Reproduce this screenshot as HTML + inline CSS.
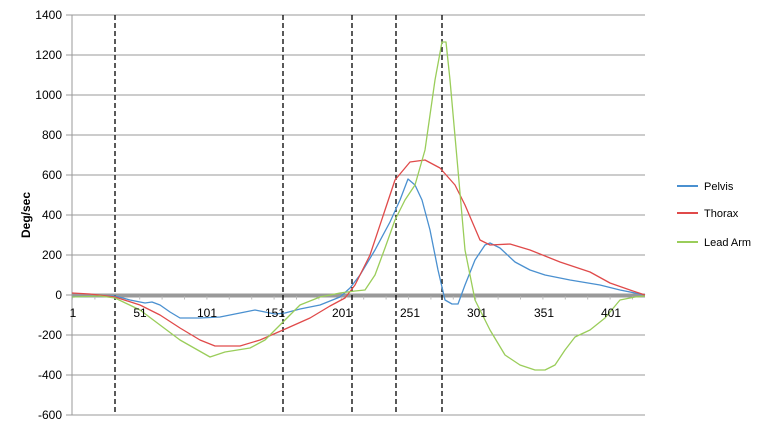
<!DOCTYPE html><html><head><style>body{margin:0;background:#fff}svg text{font-family:"Liberation Sans",sans-serif}</style></head><body>
<svg width="768" height="430" xmlns="http://www.w3.org/2000/svg">
<g stroke="#999" stroke-width="1">
<line x1="72" y1="15" x2="645" y2="15"/><line x1="72" y1="55" x2="645" y2="55"/><line x1="72" y1="95" x2="645" y2="95"/><line x1="72" y1="135" x2="645" y2="135"/><line x1="72" y1="175" x2="645" y2="175"/><line x1="72" y1="215" x2="645" y2="215"/><line x1="72" y1="255" x2="645" y2="255"/><line x1="72" y1="335" x2="645" y2="335"/><line x1="72" y1="375" x2="645" y2="375"/><line x1="72" y1="415" x2="645" y2="415"/>
<line x1="72" y1="15" x2="72" y2="415"/>
<line x1="66" y1="15" x2="72" y2="15"/><line x1="66" y1="55" x2="72" y2="55"/><line x1="66" y1="95" x2="72" y2="95"/><line x1="66" y1="135" x2="72" y2="135"/><line x1="66" y1="175" x2="72" y2="175"/><line x1="66" y1="215" x2="72" y2="215"/><line x1="66" y1="255" x2="72" y2="255"/><line x1="66" y1="295" x2="72" y2="295"/><line x1="66" y1="335" x2="72" y2="335"/><line x1="66" y1="375" x2="72" y2="375"/><line x1="66" y1="415" x2="72" y2="415"/>
</g>
<line x1="72" y1="295.5" x2="645" y2="295.5" stroke="#999" stroke-width="4"/>
<line x1="72" y1="298" x2="645" y2="298" stroke="#bbb" stroke-width="3" stroke-dasharray="1,21.4"/>
<g stroke="#000" stroke-width="1.3" stroke-dasharray="5,3">
<line x1="115" y1="15" x2="115" y2="415"/><line x1="283" y1="15" x2="283" y2="415"/><line x1="352" y1="15" x2="352" y2="415"/><line x1="396" y1="15" x2="396" y2="415"/><line x1="442" y1="15" x2="442" y2="415"/>
</g>
<g fill="none" stroke-width="1.3" stroke-linejoin="round">
<polyline stroke="#4a90d0" points="72,297 100,296 115,296 130,300 145,303 152,302 160,305 170,312 180,318 200,318 220,317 240,313 255,310 265,312 275,314 285,313 300,309 320,305 340,297 350,288 360,275 375,250 390,222 400,200 408,179 415,185 422,200 430,230 438,270 445,300 452,304 458,304 465,285 475,260 485,245 490,243 500,248 515,262 530,270 545,275 570,280 600,285 620,290 645,295"/>
<polyline stroke="#e04a4a" points="72,293 90,294 115,297 140,305 160,315 180,328 200,340 215,346 240,346 260,340 283,330 310,318 330,306 345,298 355,285 370,255 385,210 395,180 410,162 425,160 440,168 455,185 465,205 480,240 490,245 510,244 530,250 560,262 590,272 610,283 630,290 645,295"/>
<polyline stroke="#9acd5a" points="72,297 100,296 115,298 140,310 160,325 180,340 210,357 225,352 250,348 265,340 280,325 300,305 320,297 340,293 355,291 365,290 375,275 385,248 395,220 405,200 415,185 425,150 435,80 442,42 446,42 450,80 458,170 465,250 475,300 490,330 505,355 520,365 535,370 545,370 555,365 565,350 575,337 590,330 605,318 620,300 635,297 645,296"/>
</g>
<g font-size="12" text-anchor="end">
<text x="62" y="19">1400</text><text x="62" y="59">1200</text><text x="62" y="99">1000</text><text x="62" y="139">800</text><text x="62" y="179">600</text><text x="62" y="219">400</text><text x="62" y="259">200</text><text x="62" y="299">0</text><text x="62" y="339">-200</text><text x="62" y="379">-400</text><text x="62" y="419">-600</text>
</g>
<g font-size="12" text-anchor="middle">
<text x="73" y="317">1</text><text x="140" y="317">51</text><text x="207" y="317">101</text><text x="275" y="317">151</text><text x="342" y="317">201</text><text x="410" y="317">251</text><text x="477" y="317">301</text><text x="544" y="317">351</text><text x="611" y="317">401</text>
</g>
<text x="0" y="0" font-size="12" font-weight="bold" text-anchor="middle" transform="translate(30,215) rotate(-90)">Deg/sec</text>
<g font-size="11">
<line x1="677" y1="186" x2="698" y2="186" stroke="#4a90d0" stroke-width="2"/><text x="704" y="190">Pelvis</text>
<line x1="677" y1="213" x2="698" y2="213" stroke="#e04a4a" stroke-width="2"/><text x="704" y="217">Thorax</text>
<line x1="677" y1="242" x2="698" y2="242" stroke="#9acd5a" stroke-width="2"/><text x="704" y="246">Lead Arm</text>
</g>
</svg></body></html>
